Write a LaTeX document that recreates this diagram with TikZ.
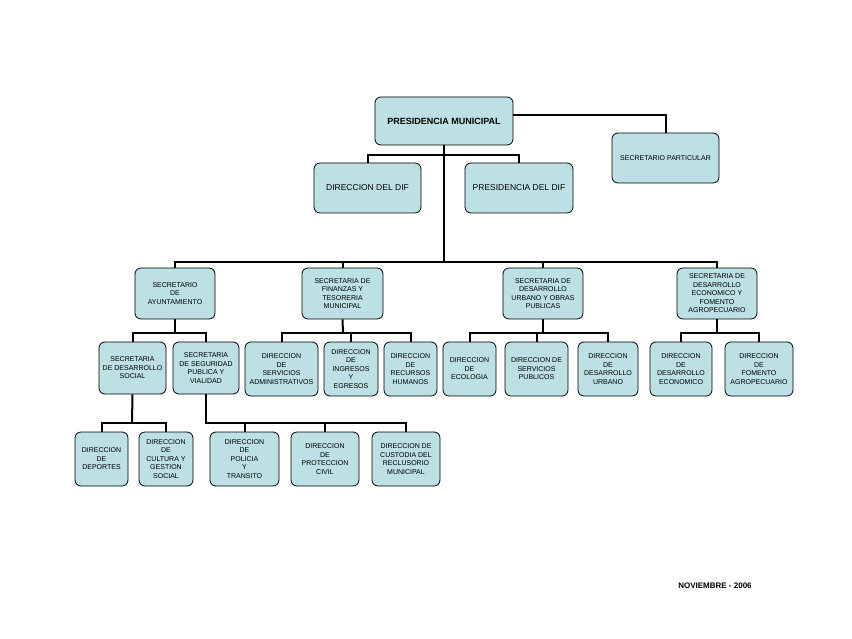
\documentclass[tikz,border=0pt]{standalone}
\usepackage{fontspec}
\setmainfont{Liberation Sans}
\begin{document}
\begin{tikzpicture}[x=1pt,y=-1pt,
  bx/.style={draw=black,line width=0.8pt,fill=boxc,rounded corners=6pt,align=center,inner sep=1pt,font=\fontsize{7}{8.5}\selectfont},
  ln/.style={line width=2pt}]
\definecolor{boxc}{HTML}{BCE0E3}
\useasboundingbox (0,0) rectangle (852,639);
\newcommand{\bxat}[6]{\node[bx,minimum width=#3-#2,minimum height=#5-#4] (#1) at ({(#2+#3)/2},{(#4+#5)/2}) {#6};}
\bxat{pm}{375}{513}{97}{145}{\fontsize{9}{10}\selectfont\bfseries PRESIDENCIA MUNICIPAL}
\bxat{sp}{612}{719}{133}{183}{SECRETARIO PARTICULAR}
\bxat{dif}{314}{421}{163}{213}{\fontsize{8.5}{10}\selectfont DIRECCION DEL DIF}
\bxat{pdif}{465}{573}{163}{213}{\fontsize{8.5}{10}\selectfont PRESIDENCIA DEL DIF}
\bxat{sa}{135}{215}{268}{319}{SECRETARIO\\DE\\AYUNTAMIENTO}
\bxat{sf}{302}{383}{268}{319}{SECRETARIA DE\\FINANZAS Y\\TESORERIA\\MUNICIPAL}
\bxat{sdu}{503}{583}{268}{319}{SECRETARIA DE\\DESARROLLO\\URBANO Y OBRAS\\PUBLICAS}
\bxat{sde}{677}{757}{268}{319}{SECRETARIA DE\\DESARROLLO\\ECONOMICO Y\\FOMENTO\\AGROPECUARIO}
\bxat{sds}{99}{166}{342}{394}{SECRETARIA\\DE DESARROLLO\\SOCIAL}
\bxat{ssp}{173}{239}{342}{394}{SECRETARIA\\DE SEGURIDAD\\PUBLICA Y\\VIALIDAD}
\bxat{dsa}{245}{318}{342}{396}{DIRECCION\\DE\\SERVICIOS\\ADMINISTRATIVOS}
\bxat{die}{324}{378}{342}{396}{DIRECCION\\DE\\INGRESOS\\Y\\EGRESOS}
\bxat{drh}{384}{437}{342}{396}{DIRECCION\\DE\\RECURSOS\\HUMANOS}
\bxat{de}{443}{496}{342}{396}{DIRECCION\\DE\\ECOLOGIA}
\bxat{dsp}{505}{568}{342}{396}{DIRECCION DE\\SERVICIOS\\PUBLICOS}
\bxat{ddu}{578}{638}{342}{396}{DIRECCION\\DE\\DESARROLLO\\URBANO}
\bxat{dde}{650}{712}{342}{396}{DIRECCION\\DE\\DESARROLLO\\ECONOMICO}
\bxat{dfa}{725}{793}{342}{396}{DIRECCION\\DE\\FOMENTO\\AGROPECUARIO}
\bxat{dd}{75}{128}{432}{486}{DIRECCION\\DE\\DEPORTES}
\bxat{dcg}{139}{193}{432}{486}{DIRECCION\\DE\\CULTURA Y\\GESTION\\SOCIAL}
\bxat{dpt}{210}{279}{432}{486}{DIRECCION\\DE\\POLICIA\\Y\\TRANSITO}
\bxat{dpc}{291}{359}{432}{486}{DIRECCION\\DE\\PROTECCION\\CIVIL}
\bxat{dcr}{372}{440}{432}{486}{DIRECCION DE\\CUSTODIA DEL\\RECLUSORIO\\MUNICIPAL}
\node[font=\fontsize{8}{9}\selectfont\bfseries] (nov) at (715,586) {NOVIEMBRE - 2006};
% connectors
\draw[ln] (pm.east|-0,115) -| (sp.north);
\draw[ln] (pm.south) -- (444,262);
\draw[ln] (dif.north) |- (444,155) -| (pdif.north);
\draw[ln] (sa.north) |- (444,262) -| (sde.north);
\draw[ln] (sf.north) -- (sf.north|-0,262);
\draw[ln] (sdu.north) -- (sdu.north|-0,262);
\draw[ln] (sa.south) -- (175,333);
\draw[ln] (sds.north) |- (175,333) -| (ssp.north);
\draw[ln] (sf.south) -- (343,333);
\draw[ln] (dsa.north) |- (343,333) -| (drh.north);
\draw[ln] (die.north) -- (die.north|-0,333);
\draw[ln] (sdu.south) -- (543,333);
\draw[ln] (de.north) |- (543,333) -| (ddu.north);
\draw[ln] (dsp.north) -- (dsp.north|-0,333);
\draw[ln] (sde.south) -- (717,333);
\draw[ln] (dde.north) |- (717,333) -| (dfa.north);
\draw[ln] (sds.south) -- (132,423);
\draw[ln] (dd.north) |- (132,423) -| (dcg.north);
\draw[ln] (ssp.south) |- (dcr.north|-0,423) -- (dcr.north);
\draw[ln] (dpt.north) -- (dpt.north|-0,423);
\draw[ln] (dpc.north) -- (dpc.north|-0,423);
\end{tikzpicture}
\end{document}
